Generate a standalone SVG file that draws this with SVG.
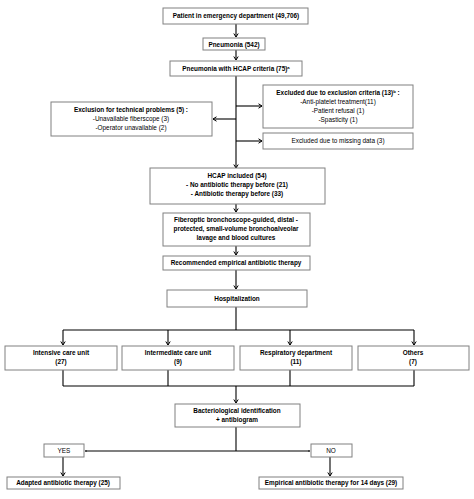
<svg xmlns="http://www.w3.org/2000/svg" width="474" height="499" viewBox="0 0 474 499">
<style>
.b{fill:#fff;stroke:#808080;stroke-width:1}
.c{fill:none;stroke:#000;stroke-width:1.1}
text{font-family:"Liberation Sans",Arial,sans-serif;font-size:6.4px;fill:#000;text-anchor:middle}
.t{font-weight:bold}
</style>
<defs>
<marker id="a" markerUnits="userSpaceOnUse" markerWidth="8" markerHeight="8" refX="0" refY="0" viewBox="-5 -4 6 8" orient="auto">
<path d="M-3.5,-2.2 L0,0 L-3.5,2.2" fill="none" stroke="#000" stroke-width="1"/>
</marker>
<marker id="s" markerUnits="userSpaceOnUse" markerWidth="4" markerHeight="4" refX="0" refY="0" viewBox="-3 -2 4 4" orient="auto">
<path d="M-1.5,-1 L0,0 L-1.5,1 Z" fill="#000"/>
</marker>
</defs>
<g id="connectors">
<path class="c" d="M236,24 V37" marker-end="url(#a)"/>
<path class="c" d="M236,50 V60" marker-end="url(#a)"/>
<path class="c" d="M236,76 V168" marker-end="url(#a)"/>
<path class="c" d="M236,106 H262" marker-end="url(#a)"/>
<path class="c" d="M236,119 H213" marker-end="url(#a)"/>
<path class="c" d="M236,141 H262" marker-end="url(#a)"/>
<path class="c" d="M236,204 V212" marker-end="url(#a)"/>
<path class="c" d="M236,246 V255" marker-end="url(#a)"/>
<path class="c" d="M236,270 V289" marker-end="url(#a)"/>
<path class="c" d="M236,307 V330 M63,330 H414"/>
<path class="c" d="M63,330 V345" marker-end="url(#a)"/>
<path class="c" d="M168,330 V345" marker-end="url(#a)"/>
<path class="c" d="M290,330 V345" marker-end="url(#a)"/>
<path class="c" d="M414,330 V345" marker-end="url(#a)"/>
<path class="c" d="M63,370 V386 M168,370 V386 M290,370 V386 M414,370 V386 M63,386 H414"/>
<path class="c" d="M236,386 V403" marker-end="url(#a)"/>
<path class="c" d="M236,427 V451"/>
<path class="c" d="M236,451 H85" marker-end="url(#s)"/>
<path class="c" d="M236,451 H310" marker-end="url(#s)"/>
<path class="c" d="M63,457 V476" marker-end="url(#a)"/>
<path class="c" d="M330,457 V476" marker-end="url(#a)"/>
</g>
<g id="n1"><rect class="b" x="163" y="8" width="145" height="16"/><text class="t" x="236" y="18.3">Patient in emergency department (49,706)</text></g>
<g id="n2"><rect class="b" x="203" y="38" width="62" height="12"/><text class="t" x="234" y="46.5">Pneumonia (542)</text></g>
<g id="n3"><rect class="b" x="170" y="61" width="132" height="15"/><text class="t" x="236" y="70.8">Pneumonia with HCAP criteria  (75)<tspan font-size="4.2" dy="-2">a</tspan></text></g>
<g id="n4"><rect class="b" x="263" y="85" width="150" height="43"/><text class="t" x="338" y="95">Excluded due to exclusion criteria (13)<tspan font-size="4.2" dy="-2">b</tspan><tspan dy="2"> :</tspan></text><text x="338" y="104">-Anti-platelet treatment(11)</text><text x="338" y="113">-Patient refusal (1)</text><text x="338" y="122">-Spasticity (1)</text></g>
<g id="n5"><rect class="b" x="51" y="102" width="161" height="34"/><text class="t" x="131" y="112">Exclusion for technical problems (5) :</text><text x="131" y="121">-Unavailable  fiberscope (3)</text><text x="131" y="130">-Operator unavailable (2)</text></g>
<g id="n6"><rect class="b" x="263" y="133" width="150" height="16"/><text x="338" y="143.3">Excluded due to missing data (3)</text></g>
<g id="n7"><rect class="b" x="150" y="168" width="175" height="36"/><text class="t" x="237" y="178">HCAP included  (54)</text><text class="t" x="237" y="187">- No antibiotic therapy before (21)</text><text class="t" x="237" y="196">- Antibiotic therapy before (33)</text></g>
<g id="n8"><rect class="b" x="163" y="213" width="147" height="33"/><text class="t" x="236" y="222">Fiberoptic bronchoscope-guided, distal -</text><text class="t" x="236" y="231">protected, small-volume bronchoalveolar</text><text class="t" x="236" y="240">lavage and blood cultures</text></g>
<g id="n9"><rect class="b" x="163" y="256" width="147" height="14"/><text class="t" x="236" y="265.3">Recommended empirical antibiotic therapy</text></g>
<g id="n10"><rect class="b" x="167" y="290" width="140" height="17"/><text class="t" x="237" y="300.8">Hospitalization</text></g>
<g id="n11"><rect class="b" x="5" y="346" width="112" height="24"/><text class="t" x="61" y="355">Intensive care unit</text><text class="t" x="61" y="364">(27)</text></g>
<g id="n12"><rect class="b" x="122" y="346" width="112" height="24"/><text class="t" x="178" y="355">Intermediate care unit</text><text class="t" x="178" y="364">(9)</text></g>
<g id="n13"><rect class="b" x="240" y="346" width="112" height="24"/><text class="t" x="296" y="355">Respiratory department</text><text class="t" x="296" y="364">(11)</text></g>
<g id="n14"><rect class="b" x="358" y="346" width="111" height="24"/><text class="t" x="413" y="355">Others</text><text class="t" x="413" y="364">(7)</text></g>
<g id="n15"><rect class="b" x="175" y="404" width="125" height="23"/><text class="t" x="237" y="413">Bacteriological identification</text><text class="t" x="237" y="422">+ antibiogram</text></g>
<g id="n16"><rect class="b" x="44" y="444" width="40" height="13"/><text x="64" y="452.7">YES</text></g>
<g id="n17"><rect class="b" x="311" y="444" width="41" height="13"/><text x="331" y="452.7">NO</text></g>
<g id="n18"><rect class="b" x="7" y="477" width="113" height="12"/><text class="t" x="63" y="485.3">Adapted antibiotic therapy (25)</text></g>
<g id="n19"><rect class="b" x="259" y="477" width="144" height="12"/><text class="t" x="331" y="485.3">Empirical antibiotic therapy for 14 days (29)</text></g>
</svg>
